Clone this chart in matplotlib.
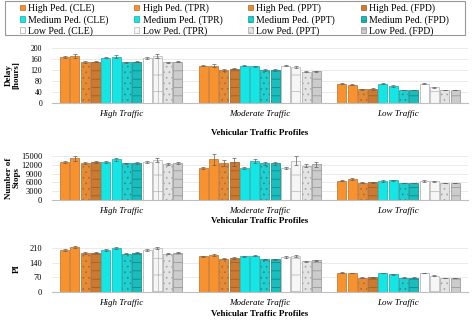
import numpy as np
import matplotlib
matplotlib.use('Agg')
import matplotlib.pyplot as plt
from matplotlib.patches import Rectangle

plt.rcParams['font.family'] = ['Liberation Serif', 'DejaVu Serif']
plt.rcParams['hatch.linewidth'] = 0.5

perfiles = ['High Traffic', 'Moderate Traffic', 'Low Traffic']
series = ['High Ped. (CLE)', 'High Ped. (TPR)', 'High Ped. (PPT)', 'High Ped. (FPD)',
          'Medium Ped. (CLE)', 'Medium Ped. (TPR)', 'Medium Ped. (PPT)', 'Medium Ped. (FPD)',
          'Low Ped. (CLE)', 'Low Ped. (TPR)', 'Low Ped. (PPT)', 'Low Ped. (FPD)']

# valores por perfil de trafico (12 series cada uno)
delay_high = [166, 172, 149, 150, 165, 168, 148, 150, 165, 171, 148, 150]
delay_mod = [136, 136, 120, 125, 136, 133, 120, 120, 136, 131, 113, 115]
delay_low = [70, 67, 50, 51, 70, 62, 48, 48, 70, 58, 47, 48]
delay_err_high = [4, 7, 2, 2, 3, 5, 2, 2, 4, 6, 2, 2]
delay_err_mod = [2, 6, 2, 3, 2, 3, 2, 2, 2, 4, 2, 3]
delay_err_low = [2, 2, 2, 2, 2, 2, 1, 1, 2, 2, 1, 1]

stops_high = [12840, 14200, 12610, 12840, 12840, 13860, 12500, 12610, 12840, 13750, 12270, 12610]
stops_mod = [11020, 13860, 12500, 13070, 10910, 13300, 12500, 12500, 10910, 13410, 11700, 12160]
stops_low = [6590, 7160, 5910, 6020, 6480, 6700, 5800, 5800, 6480, 6360, 5800, 5800]
stops_err_high = [300, 900, 300, 300, 300, 500, 200, 300, 300, 700, 200, 300]
stops_err_mod = [300, 1800, 1000, 1400, 300, 600, 500, 500, 300, 1600, 400, 800]
stops_err_low = [250, 300, 200, 200, 200, 250, 150, 150, 200, 250, 150, 150]

pi_high = [202, 215, 186, 188, 202, 210, 184, 188, 202, 210, 184, 188]
pi_mod = [170, 178, 159, 163, 170, 173, 157, 157, 168, 171, 147, 152]
pi_low = [93, 91, 69, 70, 91, 85, 69, 69, 91, 78, 67, 67]
pi_err_high = [4, 6, 3, 3, 4, 5, 3, 3, 4, 6, 3, 3]
pi_err_mod = [3, 5, 3, 6, 3, 3, 3, 3, 3, 4, 3, 3]
pi_err_low = [2, 2, 2, 2, 2, 2, 1, 1, 2, 2, 1, 1]

colores = ['#F7922E', '#F7922E', '#E48B34', '#CC7A30',
           '#14E6E6', '#14E6E6', '#1FD0D0', '#18BDBD',
           '#FFFFFF', '#F6F6F6', '#E4E4E4', '#CCCCCC']
bordes = ['#C06C22', '#C06C22', '#B8682A', '#9A5A22',
          '#10AAAA', '#10AAAA', '#0E9696', '#0A8282',
          '#A8A8A8', '#B4B4B4', '#A4A4A4', '#909090']
tramas = [None, None, '...', '--', None, None, '...', '--', None, '+', '...', '--']

paneles = [
    ([delay_high, delay_mod, delay_low], [delay_err_high, delay_err_mod, delay_err_low],
     'Delay\n[hours]', [0, 40, 80, 120, 160, 200], 200, [0.1097, 0.680, 0.877, 0.171], 8, 5.6),
    ([stops_high, stops_mod, stops_low], [stops_err_high, stops_err_mod, stops_err_low],
     'Number of\nStops', [0, 3000, 6000, 9000, 12000, 15000], 15000, [0.1097, 0.379, 0.877, 0.1366], 1.5, 6),
    ([pi_high, pi_mod, pi_low], [pi_err_high, pi_err_mod, pi_err_low],
     'PI', [0, 70, 140, 210], 225, [0.1097, 0.0932, 0.877, 0.146], 2, 6),
]

fig = plt.figure(figsize=(4.74, 3.22), dpi=100)

slot = 0.0743
ancho = 0.065
x = np.arange(len(perfiles))
handles = []

for datos, errores, ylab, ticks, ymax, pos, lpad, tsize in paneles:
    ax = fig.add_axes(pos)
    vals = np.array(datos)
    errs = np.array(errores)
    for i in range(len(series)):
        off = (i - 5.5) * slot
        b = ax.bar(x + off, vals[:, i], ancho, color=colores[i], edgecolor=bordes[i],
                   linewidth=0.5, hatch=tramas[i], label=series[i], zorder=2)
        ax.errorbar(x + off, vals[:, i], yerr=errs[:, i], fmt='none', ecolor='#606060',
                    elinewidth=0.5, capsize=1.3, capthick=0.5, zorder=3, clip_on=False)
        if len(handles) < len(series):
            handles.append(b)
    ax.set_xlim(-0.5, 2.5)
    ax.set_ylim(0, ymax)
    ax.set_yticks(ticks)
    ax.set_xticks(x)
    ax.set_xticklabels(perfiles, fontstyle='italic', fontsize=6.5)
    ax.tick_params(axis='x', length=0, pad=5)
    ax.tick_params(axis='y', length=0, pad=7, labelsize=tsize)
    ax.grid(axis='y', color='#E6E6E6', linewidth=0.6, zorder=0)
    for s in ['top', 'right', 'left']:
        ax.spines[s].set_visible(False)
    ax.spines['bottom'].set_color('#BFBFBF')
    ax.spines['bottom'].set_linewidth(0.8)
    ax.set_xlabel('Vehicular Traffic Profiles', fontweight='bold', fontsize=6.5, labelpad=lpad)
    ax.set_ylabel(ylab, fontweight='bold', fontsize=6.5, linespacing=1.0)
    ax.yaxis.set_label_coords(-0.075, 0.5)

# marco de la leyenda
fig.patches.append(Rectangle((0.0105, 0.891), 0.970, 0.1056, transform=fig.transFigure,
                             facecolor='white', edgecolor='#999999', linewidth=0.8, zorder=0))

# orden por columnas para que cada fila sea un nivel peatonal
orden = [0, 4, 8, 1, 5, 9, 2, 6, 10, 3, 7, 11]
leg = fig.legend([handles[i] for i in orden], [series[i] for i in orden], ncol=4,
                 loc='upper left', bbox_to_anchor=(0.042, 0.989),
                 fontsize=7, frameon=False,
                 handlelength=0.5, handleheight=0.5, handletextpad=0.35,
                 labelspacing=0.18, borderpad=0, borderaxespad=0, columnspacing=2.65)

plt.savefig('out.png', dpi=100)
